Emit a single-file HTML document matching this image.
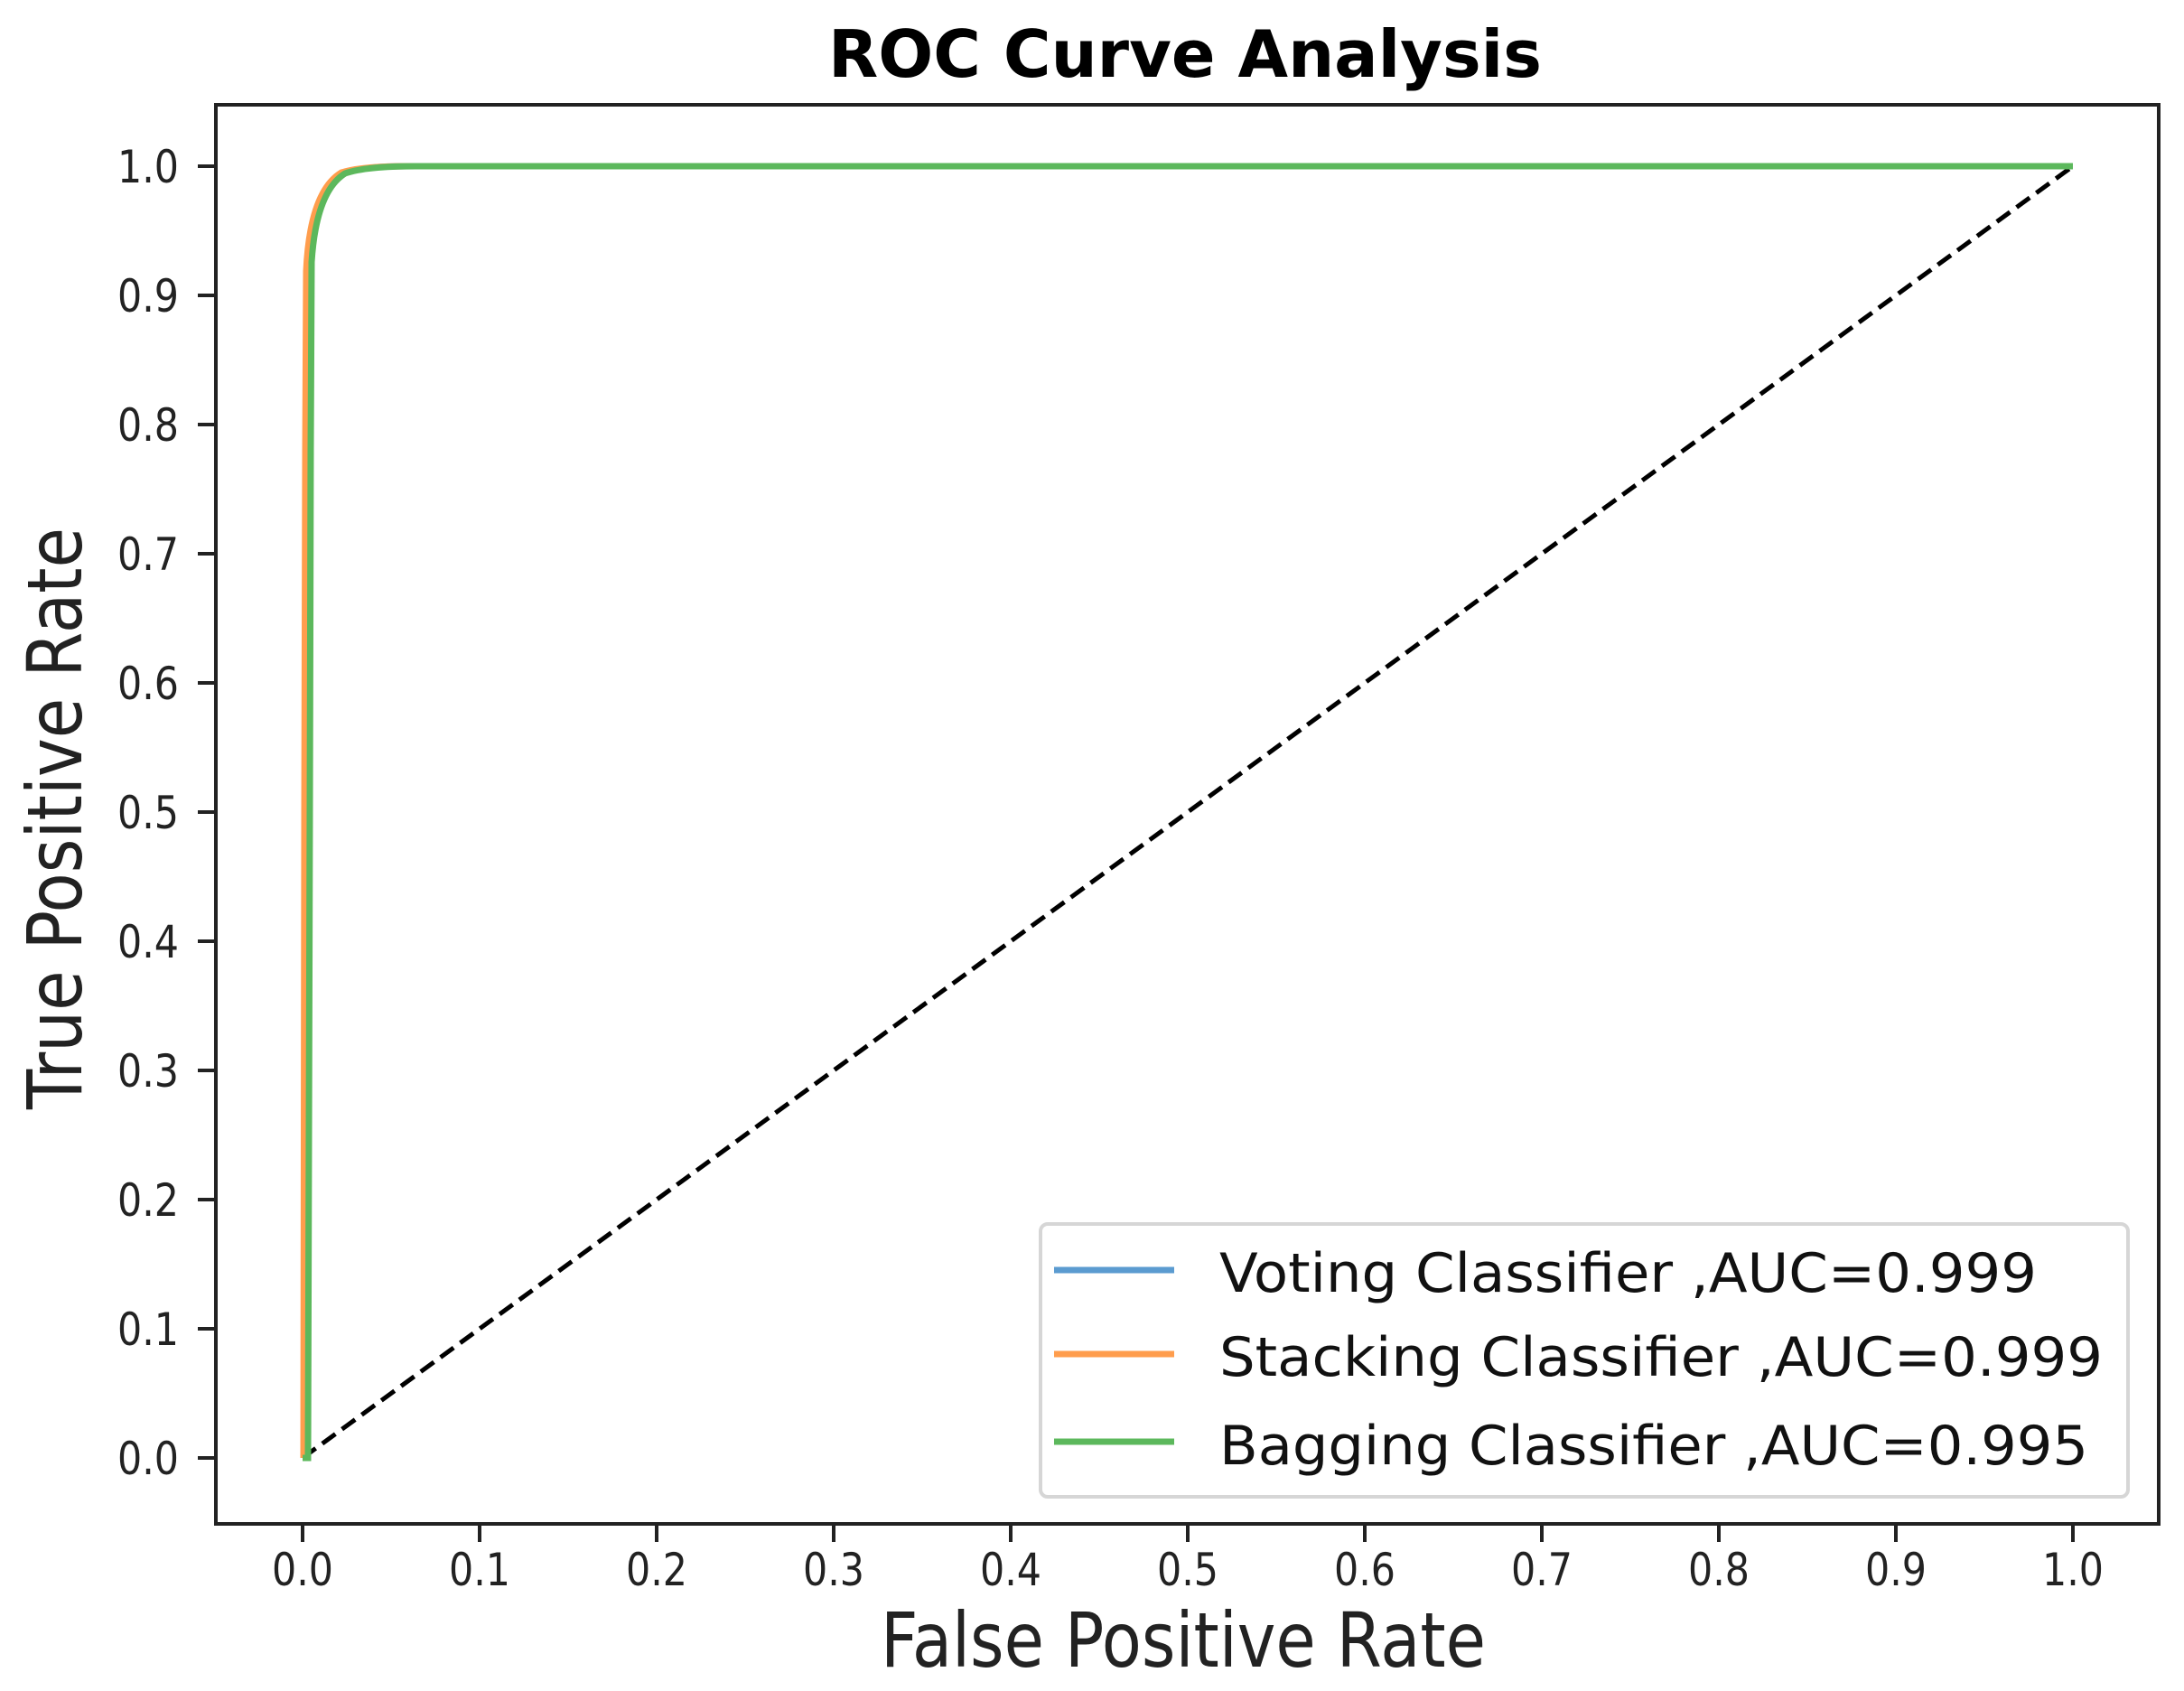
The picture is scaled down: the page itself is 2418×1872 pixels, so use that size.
<!DOCTYPE html>
<html><head><meta charset="utf-8"><style>html,body{margin:0;padding:0;background:#fff}svg{display:block}</style></head>
<body>
<svg width="2418" height="1872" viewBox="0 0 2418 1872" xmlns="http://www.w3.org/2000/svg" font-family="'DejaVu Sans','Liberation Sans',sans-serif">
<rect width="2418" height="1872" fill="#fff"/>
<text x="1312" y="85" font-size="72" font-weight="bold" text-anchor="middle" textLength="790" lengthAdjust="spacingAndGlyphs" fill="#000">ROC Curve Analysis</text>
<line x1="335" y1="1614" x2="2295" y2="184" stroke="#000" stroke-width="5" stroke-dasharray="18,9"/>
<path d="M335,1614 L338,1614 L340,1000 L341,500 L342,300 Q346,215 380,192 Q400,184 450,184 L2295,184" fill="none" stroke="#5b9bd0" stroke-width="7"/>
<path d="M335,1614 L336,1614 L337,900 L338,500 L339,300 Q343,212 378,191 Q400,184 450,184 L2295,184" fill="none" stroke="#ff9d4d" stroke-width="7"/>
<path d="M335,1614 L341,1614 L343,900 L344,500 L345,290 Q350,212 382,192 Q405,184 460,184 L2295,184" fill="none" stroke="#5cb85c" stroke-width="7"/>
<rect x="239" y="116" width="2151" height="1571" fill="none" stroke="#222" stroke-width="4"/>
<g stroke="#222" stroke-width="4">
<line x1="219" y1="184" x2="239" y2="184"/><line x1="219" y1="327" x2="239" y2="327"/><line x1="219" y1="470" x2="239" y2="470"/><line x1="219" y1="613" x2="239" y2="613"/><line x1="219" y1="756" x2="239" y2="756"/><line x1="219" y1="899" x2="239" y2="899"/><line x1="219" y1="1042" x2="239" y2="1042"/><line x1="219" y1="1185" x2="239" y2="1185"/><line x1="219" y1="1328" x2="239" y2="1328"/><line x1="219" y1="1471" x2="239" y2="1471"/><line x1="219" y1="1614" x2="239" y2="1614"/>
<line x1="335" y1="1687" x2="335" y2="1707"/><line x1="531" y1="1687" x2="531" y2="1707"/><line x1="727" y1="1687" x2="727" y2="1707"/><line x1="923" y1="1687" x2="923" y2="1707"/><line x1="1119" y1="1687" x2="1119" y2="1707"/><line x1="1315" y1="1687" x2="1315" y2="1707"/><line x1="1511" y1="1687" x2="1511" y2="1707"/><line x1="1707" y1="1687" x2="1707" y2="1707"/><line x1="1903" y1="1687" x2="1903" y2="1707"/><line x1="2099" y1="1687" x2="2099" y2="1707"/><line x1="2295" y1="1687" x2="2295" y2="1707"/>
</g>
<g font-size="50" fill="#222" text-anchor="end">
<text x="198" y="202" textLength="68" lengthAdjust="spacingAndGlyphs">1.0</text>
<text x="198" y="345" textLength="68" lengthAdjust="spacingAndGlyphs">0.9</text>
<text x="198" y="488" textLength="68" lengthAdjust="spacingAndGlyphs">0.8</text>
<text x="198" y="631" textLength="68" lengthAdjust="spacingAndGlyphs">0.7</text>
<text x="198" y="774" textLength="68" lengthAdjust="spacingAndGlyphs">0.6</text>
<text x="198" y="917" textLength="68" lengthAdjust="spacingAndGlyphs">0.5</text>
<text x="198" y="1060" textLength="68" lengthAdjust="spacingAndGlyphs">0.4</text>
<text x="198" y="1203" textLength="68" lengthAdjust="spacingAndGlyphs">0.3</text>
<text x="198" y="1346" textLength="68" lengthAdjust="spacingAndGlyphs">0.2</text>
<text x="198" y="1489" textLength="68" lengthAdjust="spacingAndGlyphs">0.1</text>
<text x="198" y="1632" textLength="68" lengthAdjust="spacingAndGlyphs">0.0</text>
</g>
<g font-size="50" fill="#222" text-anchor="middle">
<text x="335" y="1755" textLength="68" lengthAdjust="spacingAndGlyphs">0.0</text>
<text x="531" y="1755" textLength="68" lengthAdjust="spacingAndGlyphs">0.1</text>
<text x="727" y="1755" textLength="68" lengthAdjust="spacingAndGlyphs">0.2</text>
<text x="923" y="1755" textLength="68" lengthAdjust="spacingAndGlyphs">0.3</text>
<text x="1119" y="1755" textLength="68" lengthAdjust="spacingAndGlyphs">0.4</text>
<text x="1315" y="1755" textLength="68" lengthAdjust="spacingAndGlyphs">0.5</text>
<text x="1511" y="1755" textLength="68" lengthAdjust="spacingAndGlyphs">0.6</text>
<text x="1707" y="1755" textLength="68" lengthAdjust="spacingAndGlyphs">0.7</text>
<text x="1903" y="1755" textLength="68" lengthAdjust="spacingAndGlyphs">0.8</text>
<text x="2099" y="1755" textLength="68" lengthAdjust="spacingAndGlyphs">0.9</text>
<text x="2295" y="1755" textLength="68" lengthAdjust="spacingAndGlyphs">1.0</text>
</g>
<text x="1310" y="1845" font-size="84" fill="#222" text-anchor="middle" textLength="670" lengthAdjust="spacingAndGlyphs">False Positive Rate</text>
<text transform="translate(90,906) rotate(-90)" font-size="84" fill="#222" text-anchor="middle" textLength="644" lengthAdjust="spacingAndGlyphs">True Positive Rate</text>
<rect x="1152" y="1355" width="1204" height="302" rx="8" fill="#fff" stroke="#d6d6d6" stroke-width="4"/>
<line x1="1167" y1="1406" x2="1300" y2="1406" stroke="#5b9bd0" stroke-width="7"/>
<line x1="1167" y1="1499" x2="1300" y2="1499" stroke="#ff9d4d" stroke-width="7"/>
<line x1="1167" y1="1596" x2="1300" y2="1596" stroke="#5cb85c" stroke-width="7"/>
<g font-size="60" fill="#111">
<text x="1350" y="1430" textLength="905" lengthAdjust="spacingAndGlyphs">Voting Classifier ,AUC=0.999</text>
<text x="1350" y="1523" textLength="978" lengthAdjust="spacingAndGlyphs">Stacking Classifier ,AUC=0.999</text>
<text x="1350" y="1621" textLength="962" lengthAdjust="spacingAndGlyphs">Bagging Classifier ,AUC=0.995</text>
</g>
</svg>
</body></html>
